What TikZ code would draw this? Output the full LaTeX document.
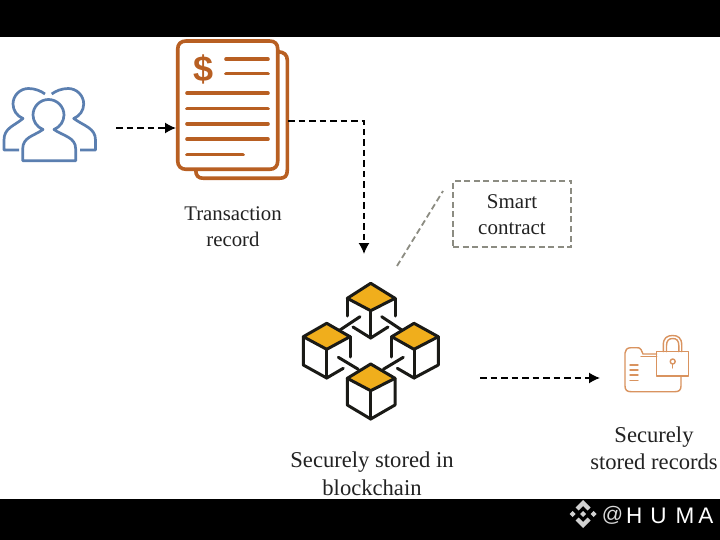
\documentclass[tikz,border=0pt]{standalone}
\usepackage{fontspec}
\setmainfont{Liberation Serif}
\newfontfamily\wmfont{Liberation Sans}
\usetikzlibrary{arrows.meta}
\definecolor{docbrown}{HTML}{B85F22}
\definecolor{userblue}{HTML}{5B7FB0}
\definecolor{cubegold}{HTML}{F0AE1C}
\definecolor{cubeink}{HTML}{1A1A16}
\definecolor{dashgray}{HTML}{8C8C82}
\definecolor{folderorange}{HTML}{D9935F}
\definecolor{textink}{HTML}{222222}
\tikzset{
  flow/.style={draw=black,line width=1.5pt,dash pattern=on 6.5pt off 4pt,-{Latex[length=11pt,width=11pt]}},
  doc/.style={draw=docbrown,line width=3.6pt,line cap=round,line join=round},
  person/.style={draw=userblue,line width=2.7pt,line join=round},
  cubeline/.style={draw=cubeink,line width=3pt,line cap=round,line join=round},
  cubetop/.style={fill=cubegold,draw=cubeink,line width=3pt,line join=round},
  folderline/.style={draw=folderorange,line width=1.4pt,line cap=round,line join=round},
  label/.style={text=textink,align=center,inner sep=0pt},
  graydash/.style={draw=dashgray,line width=1.8pt,dash pattern=on 6pt off 3.5pt},
}
\begin{document}
\begin{tikzpicture}[x=1pt,y=-1pt]
\useasboundingbox (0,0) rectangle (720,540);
\fill[white] (0,0) rectangle (720,540);
\fill[black] (0,0) rectangle (720,37);
\fill[black] (0,499) rectangle (720,540);

% users
\draw[person] (19,150)--(4,150)--(4,140) .. controls (4,128) and (14,126) .. (23,118.5) .. controls (17,116) and (13,110.5) .. (13,104) .. controls (13,95.5) and (20,88.5) .. (28.5,88.5) .. controls (35,88.5) and (41,91) .. (45,94);
\draw[person] (80,150)--(95.5,150)--(95.5,140) .. controls (95.5,128) and (84,126) .. (73.7,118.5) .. controls (79.7,116) and (83.7,110.5) .. (83.7,104) .. controls (83.7,95.5) and (76.7,88.5) .. (68.2,88.5) .. controls (61.7,88.5) and (55.7,91) .. (51.7,94);
\draw[person] (22.7,160.7)--(22.7,149) .. controls (22.7,137) and (34,136) .. (43,129.5) .. controls (37,127) and (33,121.5) .. (33,115) .. controls (33,106.5) and (40,99.5) .. (48.5,99.5) .. controls (57,99.5) and (64,106.5) .. (64,115) .. controls (64,121.5) and (60,127) .. (54,129.5) .. controls (63,136) and (75.7,137) .. (75.7,149)--(75.7,160.7)--cycle;

% document
\draw[doc] (195.7,170) .. controls (196,176) and (198,178.3) .. (204,178.3) -- (279,178.3) .. controls (285,178.3) and (287.3,176) .. (287.3,170) -- (287.3,60) .. controls (287.3,55) and (284,52) .. (278,51.7);
\draw[doc,fill=white] (186,41) -- (269.5,41) .. controls (275,41) and (277.7,44) .. (277.7,49) -- (277.7,161) .. controls (277.7,166) and (275,169.3) .. (269.5,169.3) -- (186,169.3) .. controls (181,169.3) and (177.7,166) .. (177.7,161) -- (177.7,49) .. controls (177.7,44) and (181,41) .. (186,41) -- cycle;
\draw[doc] (226,59.3)--(268,59.3);
\draw[doc] (226,73.7)--(268,73.7);
\draw[doc] (187,93.3)--(268,93.3);
\draw[doc] (187,108.7)--(268,108.7);
\draw[doc] (187,124)--(268,124);
\draw[doc] (187,139.3)--(268,139.3);
\draw[doc] (187,154.7)--(243,154.7);
\node[font=\fontsize{36}{36}\selectfont\wmfont\bfseries,text=docbrown,inner sep=0pt] (dollar) at (204,69.5) {\$};

% blockchain: top cube
\draw[cubetop] (370.7,283.3)--(395,298.3)--(370.7,310.7)--(347.3,298.3)--cycle;
\draw[cubeline] (347.3,298.3)--(347.3,316);
\draw[cubeline] (395,298.3)--(395,316);
\draw[cubeline] (370.7,310.7)--(370.7,338);
\draw[cubeline] (353,327)--(370.7,338)--(388,327);
% left cube
\draw[cubetop] (326.7,323.3)--(350,336.7)--(326.7,349.3)--(303.3,336.7)--cycle;
\draw[cubeline] (303.3,336.7)--(303.3,365)--(326.7,378)--(343.3,368.3);
\draw[cubeline] (326.7,349.3)--(326.7,378);
\draw[cubeline] (350,336.7)--(350,357);
% right cube
\draw[cubetop] (414,323.3)--(438.3,336.7)--(414,349.3)--(391.7,336.7)--cycle;
\draw[cubeline] (438.3,336.7)--(438.3,365)--(414,378)--(397.3,368.3);
\draw[cubeline] (414,349.3)--(414,378);
\draw[cubeline] (391.7,336.7)--(391.7,357);
% bottom cube
\draw[cubetop] (370.7,364)--(395,378.3)--(370.7,390.7)--(347.3,378.3)--cycle;
\draw[cubeline] (347.3,378.3)--(347.3,405)--(370.7,419)--(395,405)--(395,378.3);
\draw[cubeline] (370.7,390.7)--(370.7,419);
% links
\draw[cubeline] (340,330)--(360,316.7);
\draw[cubeline] (381.7,316.7)--(401.7,330);
\draw[cubeline] (338.3,357.3)--(358.3,369.3);
\draw[cubeline] (383.3,369.3)--(403.3,357.3);

% folder
\draw[folderline] (656.7,354)--(643,354)--(641,349.5) .. controls (640,348) and (639,347.7) .. (637,347.7)--(631,347.7) .. controls (627,347.7) and (625,350) .. (625,353)--(625,386) .. controls (625,390) and (627,391.7) .. (631,391.7)--(675,391.7) .. controls (679,391.7) and (681,390) .. (681,386)--(681,376);
\draw[folderline] (641,356.5)--(656.7,356.5);
\draw[folderline] (630,365)--(638,365);
\draw[folderline] (630,370)--(638,370);
\draw[folderline] (630,375)--(638,375);
\draw[folderline] (630,380.7)--(638,380.7);
\draw[folderline] (656.7,351.7) rectangle (688.3,376);
\draw[folderline] (663.3,351.7)--(663.3,345) .. controls (663.3,338) and (667,335.5) .. (672.7,335.5) .. controls (678,335.5) and (681.7,338) .. (681.7,345)--(681.7,351.7);
\draw[folderline] (666.5,351.7)--(666.5,345.5) .. controls (666.5,340.5) and (669,338.5) .. (672.7,338.5) .. controls (676.5,338.5) and (678.8,340.5) .. (678.8,345.5)--(678.8,351.7);
\draw[folderline] (672.7,368)--(672.7,364);
\draw[folderline] (672.7,361.5) circle[radius=2.5];

% labels
\node[label,font=\fontsize{20.8}{26}\selectfont] (txlabel) at (233,227) {Transaction\\record};
\node[label,font=\fontsize{22.6}{28}\selectfont] (chainlabel) at (372,473.5) {Securely stored in\\blockchain};
\node[label,font=\fontsize{22.6}{27}\selectfont] (storedlabel) at (654,448) {Securely\\stored records};
\node[graydash,minimum width=118pt,minimum height=66pt,font=\fontsize{21}{26}\selectfont,text=textink,align=center,inner sep=0pt] (contractbox) at (512,214) {};
\node[label,font=\fontsize{21}{26}\selectfont] (contract) at (512,215) {Smart\\contract};

% connectors
\coordinate (usersout) at (116,128);
\coordinate (docin) at (176,128);
\coordinate (docout) at (288,121);
\coordinate (chainin) at (364,254);
\coordinate (chainout) at (480,378);
\coordinate (folderin) at (600,378);
\coordinate (leadstart) at (397,266);
\coordinate (leadend) at (443,191);
\draw[flow] (usersout)--(docin);
\draw[flow] (docout)-|(chainin);
\draw[flow] (chainout)--(folderin);
\draw[graydash] (leadstart)--(leadend);

% watermark
\begin{scope}[shift={(583,514)},fill=white!82!black]
\fill (0,-14)--(7.5,-6.5)--(4.5,-3.5)--(0,-8)--(-4.5,-3.5)--(-7.5,-6.5)--cycle;
\fill (0,14)--(7.5,6.5)--(4.5,3.5)--(0,8)--(-4.5,3.5)--(-7.5,6.5)--cycle;
\fill (-13.5,0)--(-10.5,-3)--(-7.5,0)--(-10.5,3)--cycle;
\fill (13.5,0)--(10.5,-3)--(7.5,0)--(10.5,3)--cycle;
\fill (0,-3)--(3,0)--(0,3)--(-3,0)--cycle;
\end{scope}
\node[font=\fontsize{21}{21}\selectfont\wmfont,text=white!85!black,inner sep=0pt] (atsign) at (612.5,515) {@};
\node[font=\fontsize{22.5}{22.5}\selectfont\wmfont,text=white,inner sep=0pt,anchor=west] (huma) at (626,515.5) {H\hspace{8pt}U\hspace{9pt}M\hspace{4pt}A};
\end{tikzpicture}
\end{document}
